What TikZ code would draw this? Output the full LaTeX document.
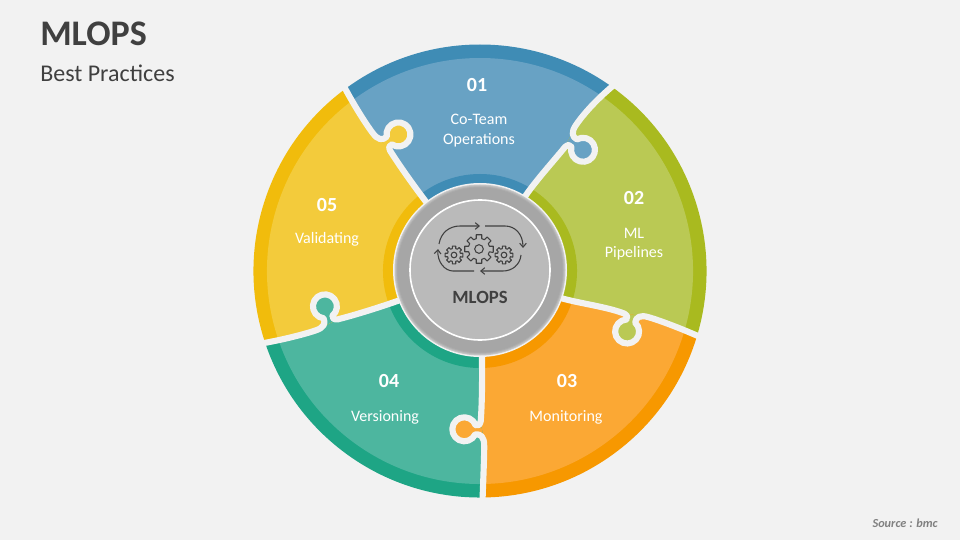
\documentclass[tikz,border=0pt]{standalone}
\usepackage{fontspec}
\setmainfont{Carlito}
\usetikzlibrary{arrows.meta}
\definecolor{pageBg}{HTML}{F2F2F2}
\definecolor{inkDark}{HTML}{404040}
\definecolor{blueD}{HTML}{3F8CB5}
\definecolor{blueL}{HTML}{68A2C4}
\definecolor{greenD}{HTML}{A9BA1F}
\definecolor{greenL}{HTML}{BAC954}
\definecolor{orangeD}{HTML}{F79800}
\definecolor{orangeL}{HTML}{FBA834}
\definecolor{tealD}{HTML}{1EA585}
\definecolor{tealL}{HTML}{4DB69F}
\definecolor{yellowD}{HTML}{F1BC0C}
\definecolor{yellowL}{HTML}{F3CB3B}
% per gap: small turn of the knob, angle at the rim, angle at the hub
\newcommand{\twlist}{{0,0,-1.3,-.8,-.8}}
\newcommand{\oalist}{{53.5,55,55.8,54.8,54.8}}
\newcommand{\ialist}{{59,53.4,56.6,56.8,56.8}}
\newcommand{\sepline}[2]{(#1:240) .. controls (115,172) and (100,152) .. (96,146)
  .. controls (91,139) and (92,134) .. (97,131.6)
  arc[start angle=120,delta angle=-315,radius=12]
  .. controls (90,122.5) and (91,129) .. (85,124)
  .. controls (72,108) and (#2:100) .. (#2:80)}
\newcommand{\gearicon}[4]{% x, y, outer radius, hole radius
  \draw[iconline] (#1,#2) circle[radius=#4];
  \draw[iconline,line join=round] ({#1+#3*cos(-14)},{#2+#3*sin(-14)})
    \foreach \a in {0,45,...,315} {
      -- ({#1+#3*cos(\a-11)},{#2+#3*sin(\a-11)})
      -- ({#1+#3*cos(\a+11)},{#2+#3*sin(\a+11)})
      -- ({#1+.74*#3*cos(\a+15)},{#2+.74*#3*sin(\a+15)})
      -- ({#1+.74*#3*cos(\a+30)},{#2+.74*#3*sin(\a+30)})
    } -- cycle;}
\tikzset{
  numlabel/.style={text=white,font=\fontsize{15}{18}\selectfont\bfseries},
  steplabel/.style={text=white,font=\fontsize{12}{14.4}\selectfont,align=center},
  iconline/.style={draw=inkDark,line width=.8pt},
  iconarrow/.style={iconline,-{Straight Barb[length=3pt,width=5pt]}},
}
\begin{document}
\begin{tikzpicture}[x=.75pt,y=.75pt]
  \useasboundingbox (0,0) rectangle (960,540);
  \fill[pageBg] (0,0) rectangle (960,540);

  % puzzle pieces
  \foreach \k/\dk/\lt in {0/blueD/blueL,1/greenD/greenL,2/orangeD/orangeL,3/tealD/tealL,4/yellowD/yellowL} {
    \pgfmathsetmacro\tw{\twlist[\k]}
    \pgfmathsetmacro\oa{\oalist[\k]}
    \pgfmathsetmacro\ia{\ialist[\k]}
    \pgfmathtruncatemacro\p{mod(\k+4,5)}
    \pgfmathsetmacro\twp{72+\twlist[\p]}
    \pgfmathsetmacro\oap{\oalist[\p]}
    \pgfmathsetmacro\iap{\ialist[\p]}
    \begin{scope}[shift={(480,269)},rotate=-72*\k]
      \begin{scope}
        \clip (0,0) -- ([rotate=\tw]\ia:80) -- ([rotate=\tw]\ia:100) -- ([rotate=\tw]72,108)
          -- ([rotate=\tw]85,124) -- ([rotate=\tw]96,146) -- ([rotate=\tw]115,172) -- ([rotate=\tw]\oa:240)
          -- (90:300) -- ([rotate=\twp]\oap:240)
          -- ([rotate=\twp]115,172) -- ([rotate=\twp]96,146) -- ([rotate=\twp]85,124)
          -- ([rotate=\twp]72,108) -- ([rotate=\twp]\iap:100) -- ([rotate=\twp]\iap:80) -- cycle;
        \fill[\dk] (0,0) circle[radius=226.5];
        \fill[\lt] (0,0) circle[radius=213];
        \fill[\dk] (0,0) circle[radius=97];
      \end{scope}
    \end{scope}
  }
  % knobs
  \foreach \k/\lt in {0/blueL,1/greenL,2/orangeL,3/tealL,4/yellowL} {
    \pgfmathsetmacro\tw{\twlist[\k]}
    \begin{scope}[shift={(480,269)},rotate=-72*\k+\tw]
      \fill[\lt] (96,146) .. controls (91,139) and (92,134) .. (97,131.6)
        arc[start angle=120,delta angle=-315,radius=12]
        .. controls (90,122.5) and (91,129) .. (85,124) -- cycle;
    \end{scope}
  }
  % gaps between the pieces
  \foreach \k in {0,...,4} {
    \pgfmathsetmacro\tw{\twlist[\k]}
    \pgfmathsetmacro\oa{\oalist[\k]}
    \pgfmathsetmacro\ia{\ialist[\k]}
    \begin{scope}[shift={(480,269)},rotate=-72*\k+\tw]
      \draw[pageBg,line width=4.6pt,line join=round] \sepline{\oa}{\ia};
    \end{scope}
  }

  % hub
  \fill[pageBg] (480,270) circle[radius=87];
  \fill[gray!45] (480,270) circle[radius=85.5];
  \fill[gray!55] (480,270) circle[radius=84.5];
  \fill[gray!65] (480,270) circle[radius=83.5];
  \fill[black!35] (480,270) circle[radius=82.5];
  \draw[white,line width=1.2pt,fill=black!27] (480,270) circle[radius=70];
  \node (hubname) at (480,243) [text=inkDark,font=\fontsize{14}{17}\selectfont\bfseries] {MLOPS};

  % gears and arrows
  \gearicon{479}{291}{14.5}{4.3}
  \gearicon{454}{285}{9}{2.8}
  \gearicon{504}{285}{9}{2.8}
  \draw[iconarrow] (439,296) .. controls (441,308) and (450,314) .. (460,314) -- (480,314);
  \draw[iconarrow] (485,314) -- (505,314) .. controls (515,314) and (523,306) .. (523,292);
  \draw[iconarrow] (521,285) .. controls (520,275) and (512,269) .. (503,269) -- (480,269);
  \draw[iconarrow] (474,269) -- (453,269) .. controls (445,269) and (437,278) .. (438,291);

  % titles
  \node (title) at (40,506) [anchor=west,inner sep=0pt,text=inkDark,font=\fontsize{27}{32}\selectfont\bfseries] {MLOPS};
  \node (subtitle) at (40,467) [anchor=west,inner sep=0pt,text=inkDark,font=\fontsize{18}{22}\selectfont] {Best Practices};
  \node (source) at (938,17) [anchor=east,inner sep=0pt,text=gray,font=\fontsize{9.2}{11}\selectfont\bfseries\itshape] {Source : bmc};

  % labels
  \node (num1) at (477,455) [numlabel] {01};
  \node (lab1) at (479,409.5) [steplabel] {Co-Team\\Operations};
  \node (num2) at (634,342) [numlabel] {02};
  \node (lab2) at (634,296) [steplabel] {ML\\Pipelines};
  \node (num3) at (567,159) [numlabel] {03};
  \node (lab3) at (566,123) [steplabel] {Monitoring};
  \node (num4) at (389,159) [numlabel] {04};
  \node (lab4) at (385,123) [steplabel] {Versioning};
  \node (num5) at (327,335) [numlabel] {05};
  \node (lab5) at (327,301) [steplabel] {Validating};
\end{tikzpicture}
\end{document}
